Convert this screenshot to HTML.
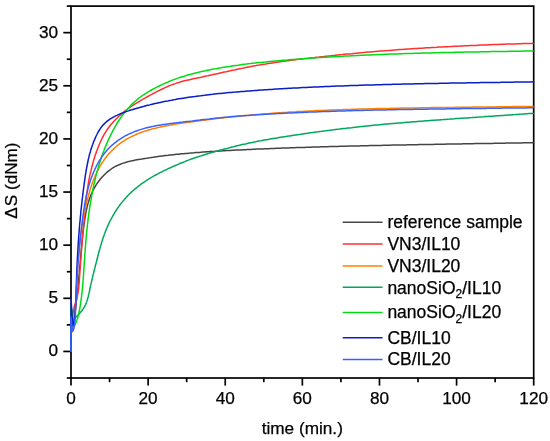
<!DOCTYPE html>
<html><head><meta charset="utf-8"><title>chart</title>
<style>html,body{margin:0;padding:0;background:#fff;overflow:hidden}svg{display:block}</style></head>
<body>
<svg width="550" height="441" viewBox="0 0 550 441">
<rect width="550" height="441" fill="#fff"/>
<g stroke="#000" stroke-width="1.7" fill="none" stroke-linecap="butt">
<rect x="71.00" y="6.10" width="462.70" height="371.90"/>
<line x1="63.30" y1="351.44" x2="71.00" y2="351.44"/>
<line x1="63.30" y1="298.31" x2="71.00" y2="298.31"/>
<line x1="63.30" y1="245.18" x2="71.00" y2="245.18"/>
<line x1="63.30" y1="192.05" x2="71.00" y2="192.05"/>
<line x1="63.30" y1="138.92" x2="71.00" y2="138.92"/>
<line x1="63.30" y1="85.79" x2="71.00" y2="85.79"/>
<line x1="63.30" y1="32.66" x2="71.00" y2="32.66"/>
<line x1="66.80" y1="378.00" x2="71.00" y2="378.00"/>
<line x1="66.80" y1="324.87" x2="71.00" y2="324.87"/>
<line x1="66.80" y1="271.74" x2="71.00" y2="271.74"/>
<line x1="66.80" y1="218.61" x2="71.00" y2="218.61"/>
<line x1="66.80" y1="165.49" x2="71.00" y2="165.49"/>
<line x1="66.80" y1="112.36" x2="71.00" y2="112.36"/>
<line x1="66.80" y1="59.23" x2="71.00" y2="59.23"/>
<line x1="66.80" y1="6.10" x2="71.00" y2="6.10"/>
<line x1="71.00" y1="378.00" x2="71.00" y2="385.60"/>
<line x1="148.12" y1="378.00" x2="148.12" y2="385.60"/>
<line x1="225.23" y1="378.00" x2="225.23" y2="385.60"/>
<line x1="302.35" y1="378.00" x2="302.35" y2="385.60"/>
<line x1="379.47" y1="378.00" x2="379.47" y2="385.60"/>
<line x1="456.58" y1="378.00" x2="456.58" y2="385.60"/>
<line x1="533.70" y1="378.00" x2="533.70" y2="385.60"/>
<line x1="109.56" y1="378.00" x2="109.56" y2="382.20"/>
<line x1="186.68" y1="378.00" x2="186.68" y2="382.20"/>
<line x1="263.79" y1="378.00" x2="263.79" y2="382.20"/>
<line x1="340.91" y1="378.00" x2="340.91" y2="382.20"/>
<line x1="418.03" y1="378.00" x2="418.03" y2="382.20"/>
<line x1="495.14" y1="378.00" x2="495.14" y2="382.20"/>
</g>
<g fill="none" stroke-width="1.5" stroke-linejoin="round" stroke-linecap="butt">
<path d="M71.0 351.4 L71.0 305.0 L72.4 330.1 L72.4 330.0 L72.4 329.8 L72.5 329.7 L72.5 329.6 L72.5 329.4 L72.6 329.2 L72.6 329.1 L72.6 328.9 L72.7 328.7 L72.7 328.5 L72.7 328.2 L72.8 328.0 L72.8 327.8 L72.9 327.5 L72.9 327.2 L73.0 327.0 L73.0 326.7 L73.1 326.4 L73.1 326.1 L73.2 325.8 L73.2 325.4 L73.3 325.1 L73.3 324.7 L73.4 324.4 L73.4 324.0 L73.5 323.6 L73.5 323.2 L73.6 322.8 L73.7 322.4 L73.7 322.0 L73.8 321.6 L73.9 321.2 L73.9 320.7 L74.0 320.2 L74.0 319.8 L74.1 319.3 L74.2 318.8 L74.2 318.3 L74.3 317.8 L74.4 317.3 L74.5 316.8 L74.5 316.2 L74.6 315.7 L74.7 315.1 L74.7 314.6 L74.8 314.0 L74.9 313.4 L75.0 312.9 L75.0 312.3 L75.1 311.6 L75.2 311.0 L75.3 310.4 L75.3 309.8 L75.4 309.1 L75.5 308.5 L75.6 307.8 L75.7 307.2 L75.8 306.5 L75.8 305.8 L75.9 305.1 L76.0 304.4 L76.1 303.7 L76.2 303.0 L76.2 302.3 L76.3 301.5 L76.4 300.8 L76.5 300.0 L76.6 299.3 L76.7 298.5 L76.8 297.7 L76.8 297.0 L76.9 296.2 L77.0 295.4 L77.1 294.6 L77.2 293.8 L77.3 292.9 L77.4 292.1 L77.5 291.3 L77.6 290.4 L77.6 289.6 L77.7 288.7 L77.8 287.9 L77.9 287.0 L78.0 286.1 L78.1 285.2 L78.2 284.3 L78.3 283.4 L78.4 282.5 L78.5 281.6 L78.5 280.7 L78.6 279.8 L78.7 278.8 L78.8 277.9 L78.9 276.9 L79.0 276.0 L79.1 275.0 L79.2 274.1 L79.3 273.1 L79.4 272.1 L79.4 271.1 L79.5 270.1 L79.6 269.1 L79.7 268.1 L79.8 267.1 L79.9 266.1 L80.0 265.0 L80.1 264.0 L80.2 263.0 L80.3 261.9 L80.3 260.9 L80.4 259.8 L80.5 258.8 L80.6 257.7 L80.7 256.6 L80.8 255.6 L80.9 254.5 L81.0 253.4 L81.1 252.3 L81.2 251.2 L81.2 250.1 L81.3 249.0 L81.4 247.8 L81.5 246.7 L81.6 245.6 L81.7 244.5 L81.9 243.3 L82.0 242.2 L82.1 241.0 L82.2 239.9 L82.3 238.7 L82.4 237.5 L82.6 236.4 L82.7 235.2 L82.8 234.0 L83.0 232.8 L83.1 231.6 L83.2 230.4 L83.4 229.2 L83.5 228.0 L83.7 226.8 L83.9 225.6 L84.0 224.4 L84.2 223.1 L84.4 221.9 L84.6 220.7 L84.8 219.4 L85.0 218.2 L85.2 216.9 L85.4 215.7 L85.6 214.4 L85.8 213.1 L86.1 211.9 L86.3 210.6 L86.6 209.3 L86.9 208.0 L87.2 206.7 L87.5 205.5 L87.8 204.2 L88.2 202.9 L88.6 201.6 L89.0 200.3 L89.4 199.0 L89.9 197.7 L90.4 196.4 L90.9 195.1 L91.4 193.8 L92.0 192.5 L92.6 191.2 L93.3 190.0 L94.0 188.7 L94.7 187.4 L95.4 186.2 L96.2 184.9 L97.0 183.7 L97.8 182.5 L98.6 181.3 L99.5 180.2 L100.4 179.0 L101.4 177.9 L102.4 176.8 L103.4 175.7 L104.4 174.7 L105.4 173.7 L106.5 172.7 L107.7 171.7 L108.8 170.8 L110.0 169.9 L111.2 169.0 L112.4 168.2 L113.7 167.4 L114.9 166.7 L116.3 166.0 L117.6 165.4 L119.0 164.8 L120.4 164.2 L121.8 163.6 L123.2 163.1 L124.7 162.7 L126.2 162.2 L127.7 161.8 L129.2 161.4 L130.7 161.1 L132.3 160.7 L133.8 160.4 L135.4 160.1 L137.0 159.8 L138.6 159.5 L140.2 159.2 L141.8 159.0 L143.4 158.7 L145.0 158.4 L146.6 158.2 L148.2 157.9 L149.8 157.7 L151.5 157.4 L153.1 157.2 L154.8 156.9 L156.4 156.7 L158.1 156.5 L159.7 156.3 L161.4 156.1 L163.0 155.9 L164.7 155.6 L166.4 155.4 L168.1 155.3 L169.8 155.1 L171.5 154.9 L173.2 154.7 L174.9 154.5 L176.6 154.3 L178.3 154.2 L180.0 154.0 L181.7 153.8 L183.5 153.7 L185.2 153.5 L186.9 153.4 L188.7 153.2 L190.4 153.1 L192.2 152.9 L194.0 152.8 L195.7 152.6 L197.5 152.5 L199.3 152.4 L201.1 152.2 L202.8 152.1 L204.6 152.0 L206.4 151.8 L208.2 151.7 L210.0 151.6 L211.9 151.5 L213.7 151.4 L215.5 151.3 L217.3 151.2 L219.2 151.0 L221.0 150.9 L222.8 150.8 L224.7 150.7 L226.5 150.6 L228.4 150.5 L230.2 150.4 L232.1 150.3 L234.0 150.2 L235.9 150.1 L237.7 150.0 L239.6 149.9 L241.5 149.9 L243.4 149.8 L245.3 149.7 L247.2 149.6 L249.1 149.5 L251.0 149.4 L253.0 149.3 L254.9 149.2 L256.8 149.1 L258.7 149.1 L260.7 149.0 L262.6 148.9 L264.6 148.8 L266.5 148.7 L268.5 148.7 L270.5 148.6 L272.4 148.5 L274.4 148.4 L276.4 148.3 L278.3 148.3 L280.3 148.2 L282.3 148.1 L284.3 148.0 L286.3 148.0 L288.3 147.9 L290.3 147.8 L292.4 147.8 L294.4 147.7 L296.4 147.6 L298.4 147.6 L300.5 147.5 L302.5 147.4 L304.5 147.4 L306.6 147.3 L308.6 147.2 L310.7 147.2 L312.8 147.1 L314.8 147.0 L316.9 147.0 L319.0 146.9 L321.0 146.8 L323.1 146.8 L325.2 146.7 L327.3 146.7 L329.4 146.6 L331.5 146.6 L333.6 146.5 L335.7 146.4 L337.8 146.4 L340.0 146.3 L342.1 146.3 L344.2 146.2 L346.4 146.2 L348.5 146.1 L350.6 146.1 L352.8 146.0 L354.9 146.0 L357.1 145.9 L359.3 145.9 L361.4 145.8 L363.6 145.8 L365.8 145.7 L367.9 145.7 L370.1 145.6 L372.3 145.6 L374.5 145.5 L376.7 145.5 L378.9 145.4 L381.1 145.4 L383.3 145.3 L385.5 145.3 L387.8 145.2 L390.0 145.2 L392.2 145.1 L394.4 145.1 L396.7 145.0 L398.9 145.0 L401.2 145.0 L403.4 144.9 L405.7 144.9 L407.9 144.8 L410.2 144.8 L412.5 144.7 L414.7 144.7 L417.0 144.7 L419.3 144.6 L421.6 144.6 L423.9 144.5 L426.2 144.5 L428.5 144.4 L430.8 144.4 L433.1 144.4 L435.4 144.3 L437.7 144.3 L440.0 144.2 L442.3 144.2 L444.7 144.2 L447.0 144.1 L449.3 144.1 L451.7 144.0 L454.0 144.0 L456.4 144.0 L458.7 143.9 L461.1 143.9 L463.4 143.8 L465.8 143.8 L468.2 143.8 L470.5 143.7 L472.9 143.7 L475.3 143.6 L477.7 143.6 L480.1 143.6 L482.5 143.5 L484.9 143.5 L487.3 143.4 L489.7 143.4 L492.1 143.4 L494.5 143.3 L496.9 143.3 L499.3 143.2 L501.8 143.2 L504.2 143.2 L506.6 143.1 L509.1 143.1 L511.5 143.0 L514.0 143.0 L516.4 143.0 L518.9 142.9 L521.3 142.9 L523.8 142.8 L526.3 142.8 L528.7 142.8 L531.2 142.7 L533.7 142.7" stroke="#444444"/>
<path d="M71.0 351.4 L71.0 300.0 L72.2 326.0 L72.3 325.9 L72.4 325.9 L72.4 325.8 L72.5 325.6 L72.5 325.5 L72.6 325.3 L72.6 325.2 L72.6 325.0 L72.7 324.8 L72.7 324.6 L72.7 324.4 L72.7 324.1 L72.7 323.8 L72.7 323.6 L72.7 323.3 L72.7 323.0 L72.7 322.7 L72.7 322.3 L72.7 322.0 L72.7 321.6 L72.7 321.2 L72.7 320.9 L72.7 320.5 L72.7 320.1 L72.7 319.6 L72.7 319.2 L72.7 318.7 L72.7 318.3 L72.8 317.8 L72.8 317.3 L72.8 316.9 L72.8 316.4 L72.8 315.9 L72.9 315.3 L72.9 314.8 L73.0 314.3 L73.0 313.7 L73.1 313.2 L73.2 312.6 L73.2 312.0 L73.3 311.4 L73.4 310.9 L73.5 310.3 L73.6 309.7 L73.7 309.1 L73.9 308.4 L74.0 307.8 L74.2 307.2 L74.3 306.5 L74.5 305.9 L74.7 305.3 L74.9 304.6 L75.1 303.9 L75.4 303.3 L75.6 302.6 L75.8 301.9 L76.0 301.2 L76.2 300.5 L76.5 299.8 L76.7 299.1 L76.9 298.4 L77.1 297.6 L77.2 296.9 L77.4 296.1 L77.6 295.3 L77.7 294.5 L77.9 293.7 L78.0 292.9 L78.1 292.1 L78.2 291.3 L78.4 290.5 L78.5 289.6 L78.6 288.7 L78.7 287.9 L78.8 287.0 L78.8 286.1 L78.9 285.2 L79.0 284.3 L79.1 283.4 L79.2 282.5 L79.2 281.6 L79.3 280.6 L79.4 279.7 L79.4 278.7 L79.5 277.8 L79.6 276.8 L79.6 275.8 L79.7 274.8 L79.8 273.8 L79.8 272.8 L79.9 271.8 L80.0 270.8 L80.0 269.8 L80.1 268.8 L80.2 267.8 L80.3 266.7 L80.3 265.7 L80.4 264.6 L80.5 263.5 L80.6 262.5 L80.6 261.4 L80.7 260.3 L80.8 259.2 L80.9 258.1 L81.0 257.0 L81.0 255.9 L81.1 254.8 L81.2 253.7 L81.3 252.6 L81.4 251.4 L81.5 250.3 L81.6 249.1 L81.7 248.0 L81.8 246.8 L81.9 245.6 L82.0 244.5 L82.0 243.3 L82.1 242.1 L82.2 240.9 L82.3 239.7 L82.4 238.5 L82.5 237.2 L82.6 236.0 L82.7 234.8 L82.9 233.6 L83.0 232.3 L83.1 231.1 L83.2 229.8 L83.3 228.5 L83.4 227.3 L83.5 226.0 L83.6 224.7 L83.7 223.4 L83.8 222.1 L84.0 220.8 L84.1 219.5 L84.2 218.2 L84.3 216.9 L84.4 215.6 L84.6 214.2 L84.7 212.9 L84.8 211.6 L84.9 210.2 L85.1 208.8 L85.2 207.5 L85.3 206.1 L85.5 204.7 L85.6 203.4 L85.8 202.0 L85.9 200.6 L86.1 199.2 L86.3 197.8 L86.4 196.4 L86.6 195.0 L86.8 193.5 L87.0 192.1 L87.2 190.7 L87.4 189.3 L87.6 187.8 L87.9 186.4 L88.1 184.9 L88.3 183.5 L88.6 182.0 L88.9 180.5 L89.1 179.1 L89.4 177.6 L89.7 176.1 L90.0 174.6 L90.4 173.1 L90.7 171.7 L91.1 170.2 L91.4 168.7 L91.8 167.2 L92.2 165.7 L92.6 164.2 L93.0 162.6 L93.4 161.1 L93.9 159.6 L94.4 158.1 L94.8 156.6 L95.3 155.1 L95.8 153.6 L96.4 152.1 L96.9 150.5 L97.5 149.0 L98.1 147.5 L98.7 146.0 L99.3 144.5 L99.9 143.0 L100.6 141.5 L101.3 140.0 L102.0 138.5 L102.7 137.1 L103.5 135.6 L104.3 134.2 L105.2 132.7 L106.1 131.3 L107.0 129.9 L107.9 128.5 L108.9 127.2 L110.0 125.8 L111.0 124.5 L112.1 123.2 L113.3 121.9 L114.4 120.7 L115.6 119.4 L116.9 118.2 L118.1 117.0 L119.4 115.8 L120.7 114.6 L122.1 113.5 L123.4 112.3 L124.8 111.2 L126.2 110.1 L127.7 109.0 L129.1 108.0 L130.6 106.9 L132.1 105.9 L133.6 104.9 L135.1 103.9 L136.7 103.0 L138.2 102.0 L139.8 101.1 L141.4 100.1 L142.9 99.2 L144.6 98.3 L146.2 97.4 L147.8 96.5 L149.4 95.6 L151.1 94.7 L152.7 93.8 L154.4 93.0 L156.0 92.1 L157.7 91.2 L159.4 90.4 L161.1 89.5 L162.8 88.7 L164.6 87.9 L166.3 87.1 L168.1 86.3 L169.9 85.6 L171.6 84.9 L173.4 84.2 L175.3 83.6 L177.1 82.9 L179.0 82.4 L180.8 81.8 L182.7 81.3 L184.6 80.8 L186.5 80.3 L188.5 79.9 L190.4 79.5 L192.3 79.0 L194.3 78.6 L196.3 78.2 L198.2 77.8 L200.2 77.4 L202.2 77.0 L204.2 76.5 L206.1 76.1 L208.1 75.7 L210.1 75.2 L212.1 74.8 L214.1 74.3 L216.1 73.9 L218.1 73.5 L220.2 73.0 L222.2 72.6 L224.2 72.1 L226.2 71.7 L228.3 71.2 L230.3 70.8 L232.4 70.3 L234.4 69.9 L236.5 69.4 L238.5 69.0 L240.6 68.6 L242.7 68.2 L244.8 67.7 L246.9 67.3 L248.9 66.9 L251.0 66.5 L253.2 66.1 L255.3 65.7 L257.4 65.3 L259.5 65.0 L261.6 64.6 L263.8 64.2 L265.9 63.9 L268.1 63.5 L270.2 63.2 L272.4 62.9 L274.6 62.6 L276.7 62.2 L278.9 61.9 L281.1 61.6 L283.3 61.3 L285.5 61.0 L287.7 60.7 L289.9 60.4 L292.1 60.1 L294.3 59.9 L296.6 59.6 L298.8 59.3 L301.0 59.0 L303.3 58.8 L305.5 58.5 L307.8 58.3 L310.0 58.0 L312.3 57.7 L314.6 57.5 L316.8 57.2 L319.1 57.0 L321.4 56.7 L323.7 56.5 L326.0 56.2 L328.3 56.0 L330.6 55.8 L332.9 55.5 L335.2 55.3 L337.5 55.0 L339.9 54.8 L342.2 54.6 L344.5 54.3 L346.9 54.1 L349.2 53.9 L351.6 53.7 L353.9 53.4 L356.3 53.2 L358.7 53.0 L361.0 52.8 L363.4 52.6 L365.8 52.3 L368.2 52.1 L370.6 51.9 L373.0 51.7 L375.4 51.5 L377.8 51.3 L380.2 51.1 L382.6 50.9 L385.0 50.7 L387.5 50.6 L389.9 50.4 L392.3 50.2 L394.8 50.0 L397.2 49.8 L399.7 49.6 L402.1 49.5 L404.6 49.3 L407.0 49.1 L409.5 49.0 L412.0 48.8 L414.5 48.6 L417.0 48.5 L419.4 48.3 L421.9 48.2 L424.4 48.0 L426.9 47.8 L429.5 47.7 L432.0 47.5 L434.5 47.4 L437.0 47.3 L439.5 47.1 L442.1 47.0 L444.6 46.8 L447.2 46.7 L449.7 46.6 L452.3 46.4 L454.8 46.3 L457.4 46.2 L459.9 46.1 L462.5 45.9 L465.1 45.8 L467.7 45.7 L470.2 45.6 L472.8 45.5 L475.4 45.4 L478.0 45.2 L480.6 45.1 L483.2 45.0 L485.9 44.9 L488.5 44.8 L491.1 44.7 L493.7 44.6 L496.4 44.5 L499.0 44.4 L501.6 44.3 L504.3 44.2 L506.9 44.1 L509.6 44.1 L512.3 44.0 L514.9 43.9 L517.6 43.8 L520.3 43.7 L522.9 43.6 L525.6 43.6 L528.3 43.5 L531.0 43.4 L533.7 43.3" stroke="#ff3030"/>
<path d="M71.0 351.4 L71.0 300.0 L72.2 332.0 L72.3 331.9 L72.4 331.8 L72.5 331.7 L72.5 331.6 L72.6 331.4 L72.7 331.2 L72.7 331.1 L72.8 330.9 L72.9 330.7 L72.9 330.5 L73.0 330.3 L73.1 330.0 L73.1 329.8 L73.2 329.5 L73.3 329.3 L73.3 329.0 L73.4 328.7 L73.5 328.4 L73.5 328.1 L73.6 327.7 L73.6 327.4 L73.7 327.1 L73.8 326.7 L73.8 326.3 L73.9 325.9 L73.9 325.5 L74.0 325.1 L74.0 324.7 L74.1 324.3 L74.2 323.9 L74.2 323.4 L74.3 322.9 L74.3 322.5 L74.4 322.0 L74.4 321.5 L74.5 321.0 L74.5 320.5 L74.6 320.0 L74.6 319.4 L74.7 318.9 L74.7 318.3 L74.8 317.8 L74.8 317.2 L74.9 316.6 L74.9 316.0 L75.0 315.4 L75.0 314.8 L75.1 314.2 L75.1 313.6 L75.2 312.9 L75.2 312.3 L75.3 311.6 L75.3 311.0 L75.4 310.3 L75.4 309.6 L75.4 308.9 L75.5 308.2 L75.5 307.5 L75.6 306.8 L75.6 306.1 L75.7 305.3 L75.7 304.6 L75.8 303.8 L75.8 303.1 L75.9 302.3 L75.9 301.5 L75.9 300.7 L76.0 299.9 L76.0 299.1 L76.1 298.3 L76.1 297.5 L76.2 296.7 L76.2 295.8 L76.3 295.0 L76.3 294.1 L76.4 293.3 L76.4 292.4 L76.4 291.6 L76.5 290.7 L76.5 289.8 L76.6 288.9 L76.6 288.0 L76.7 287.1 L76.7 286.2 L76.8 285.2 L76.8 284.3 L76.9 283.4 L76.9 282.4 L77.0 281.5 L77.0 280.5 L77.1 279.6 L77.1 278.6 L77.2 277.6 L77.2 276.7 L77.3 275.7 L77.3 274.7 L77.4 273.7 L77.4 272.7 L77.5 271.7 L77.5 270.6 L77.6 269.6 L77.6 268.6 L77.7 267.5 L77.8 266.5 L77.8 265.4 L77.9 264.4 L78.0 263.3 L78.0 262.3 L78.1 261.2 L78.2 260.1 L78.3 259.0 L78.3 257.9 L78.4 256.8 L78.5 255.7 L78.6 254.6 L78.7 253.5 L78.8 252.3 L78.9 251.2 L79.0 250.1 L79.1 248.9 L79.2 247.8 L79.3 246.6 L79.4 245.5 L79.6 244.3 L79.7 243.1 L79.8 242.0 L80.0 240.8 L80.1 239.6 L80.2 238.4 L80.4 237.2 L80.6 236.0 L80.7 234.8 L80.9 233.5 L81.0 232.3 L81.2 231.1 L81.4 229.8 L81.6 228.6 L81.8 227.3 L82.0 226.1 L82.2 224.8 L82.4 223.6 L82.6 222.3 L82.8 221.0 L83.1 219.7 L83.3 218.4 L83.5 217.1 L83.8 215.8 L84.0 214.5 L84.3 213.2 L84.6 211.9 L84.9 210.6 L85.1 209.2 L85.4 207.9 L85.7 206.6 L86.0 205.2 L86.4 203.9 L86.7 202.5 L87.0 201.1 L87.4 199.8 L87.7 198.4 L88.1 197.0 L88.4 195.6 L88.8 194.2 L89.2 192.9 L89.6 191.5 L90.0 190.1 L90.5 188.7 L90.9 187.3 L91.4 185.9 L91.8 184.5 L92.3 183.1 L92.8 181.7 L93.4 180.3 L93.9 179.0 L94.5 177.6 L95.0 176.2 L95.6 174.8 L96.3 173.5 L96.9 172.1 L97.6 170.8 L98.3 169.4 L99.0 168.1 L99.7 166.8 L100.5 165.4 L101.3 164.1 L102.1 162.8 L103.0 161.6 L103.8 160.3 L104.7 159.0 L105.7 157.8 L106.6 156.5 L107.6 155.3 L108.6 154.1 L109.7 152.9 L110.8 151.8 L111.9 150.6 L113.0 149.5 L114.2 148.4 L115.4 147.3 L116.6 146.2 L117.9 145.2 L119.2 144.2 L120.5 143.2 L121.8 142.2 L123.2 141.3 L124.6 140.4 L126.0 139.5 L127.4 138.7 L128.9 137.9 L130.4 137.1 L131.9 136.4 L133.4 135.7 L135.0 135.0 L136.5 134.3 L138.1 133.6 L139.7 133.0 L141.3 132.4 L142.9 131.8 L144.5 131.3 L146.2 130.8 L147.8 130.2 L149.5 129.7 L151.1 129.3 L152.8 128.8 L154.5 128.4 L156.3 128.0 L158.0 127.5 L159.7 127.2 L161.4 126.8 L163.2 126.4 L165.0 126.0 L166.7 125.7 L168.5 125.4 L170.3 125.1 L172.1 124.7 L173.9 124.4 L175.7 124.1 L177.5 123.8 L179.3 123.6 L181.2 123.3 L183.0 123.0 L184.8 122.7 L186.7 122.5 L188.5 122.2 L190.4 121.9 L192.3 121.7 L194.1 121.4 L196.0 121.2 L197.9 120.9 L199.7 120.7 L201.6 120.4 L203.5 120.2 L205.4 119.9 L207.3 119.7 L209.2 119.4 L211.1 119.2 L213.0 119.0 L214.9 118.8 L216.8 118.5 L218.8 118.3 L220.7 118.1 L222.6 117.9 L224.6 117.6 L226.5 117.4 L228.5 117.2 L230.4 117.0 L232.4 116.8 L234.3 116.6 L236.3 116.4 L238.3 116.2 L240.3 116.0 L242.2 115.8 L244.2 115.6 L246.2 115.4 L248.2 115.3 L250.2 115.1 L252.2 114.9 L254.3 114.7 L256.3 114.5 L258.3 114.4 L260.3 114.2 L262.4 114.0 L264.4 113.9 L266.5 113.7 L268.5 113.6 L270.6 113.4 L272.6 113.2 L274.7 113.1 L276.8 113.0 L278.8 112.8 L280.9 112.7 L283.0 112.5 L285.1 112.4 L287.2 112.3 L289.3 112.1 L291.4 112.0 L293.5 111.9 L295.6 111.8 L297.8 111.6 L299.9 111.5 L302.0 111.4 L304.2 111.3 L306.3 111.2 L308.4 111.1 L310.6 111.0 L312.8 110.9 L314.9 110.7 L317.1 110.6 L319.3 110.5 L321.4 110.5 L323.6 110.4 L325.8 110.3 L328.0 110.2 L330.2 110.1 L332.4 110.0 L334.6 109.9 L336.8 109.8 L339.0 109.8 L341.3 109.7 L343.5 109.6 L345.7 109.5 L347.9 109.4 L350.2 109.4 L352.4 109.3 L354.7 109.2 L356.9 109.2 L359.2 109.1 L361.5 109.0 L363.7 109.0 L366.0 108.9 L368.3 108.8 L370.6 108.8 L372.9 108.7 L375.1 108.7 L377.4 108.6 L379.7 108.6 L382.1 108.5 L384.4 108.5 L386.7 108.4 L389.0 108.4 L391.3 108.3 L393.7 108.3 L396.0 108.2 L398.3 108.2 L400.7 108.1 L403.0 108.1 L405.4 108.1 L407.7 108.0 L410.1 108.0 L412.5 107.9 L414.8 107.9 L417.2 107.9 L419.6 107.8 L422.0 107.8 L424.4 107.7 L426.7 107.7 L429.1 107.7 L431.5 107.6 L434.0 107.6 L436.4 107.6 L438.8 107.5 L441.2 107.5 L443.6 107.5 L446.0 107.5 L448.5 107.4 L450.9 107.4 L453.4 107.4 L455.8 107.3 L458.3 107.3 L460.7 107.3 L463.2 107.2 L465.6 107.2 L468.1 107.2 L470.6 107.2 L473.0 107.1 L475.5 107.1 L478.0 107.1 L480.5 107.0 L483.0 107.0 L485.5 107.0 L488.0 107.0 L490.5 106.9 L493.0 106.9 L495.5 106.9 L498.0 106.8 L500.5 106.8 L503.1 106.8 L505.6 106.7 L508.1 106.7 L510.7 106.7 L513.2 106.6 L515.7 106.6 L518.3 106.6 L520.8 106.5 L523.4 106.5 L526.0 106.5 L528.5 106.4 L531.1 106.4 L533.7 106.4" stroke="#ff8000"/>
<path d="M71.0 351.4 L71.0 305.0 L72.5 323.0 L72.4 322.9 L72.4 322.7 L72.3 322.5 L72.3 322.4 L72.3 322.2 L72.3 322.1 L72.3 321.9 L72.3 321.7 L72.4 321.5 L72.5 321.4 L72.5 321.2 L72.6 321.0 L72.8 320.8 L72.9 320.6 L73.0 320.4 L73.2 320.2 L73.3 320.0 L73.5 319.8 L73.7 319.6 L73.9 319.3 L74.1 319.1 L74.3 318.9 L74.6 318.6 L74.8 318.4 L75.1 318.1 L75.3 317.8 L75.6 317.6 L75.9 317.3 L76.1 317.0 L76.4 316.7 L76.7 316.4 L77.0 316.1 L77.3 315.8 L77.6 315.5 L78.0 315.1 L78.3 314.8 L78.6 314.4 L79.0 314.1 L79.3 313.7 L79.6 313.3 L80.0 313.0 L80.3 312.6 L80.6 312.2 L81.0 311.8 L81.3 311.3 L81.7 310.9 L82.0 310.5 L82.3 310.0 L82.7 309.5 L83.0 309.1 L83.3 308.6 L83.6 308.1 L83.9 307.6 L84.3 307.1 L84.6 306.5 L84.9 306.0 L85.1 305.4 L85.4 304.9 L85.7 304.3 L85.9 303.7 L86.2 303.1 L86.4 302.5 L86.7 301.8 L86.9 301.2 L87.1 300.5 L87.3 299.9 L87.5 299.2 L87.7 298.5 L87.9 297.8 L88.1 297.1 L88.3 296.4 L88.4 295.7 L88.6 294.9 L88.8 294.2 L89.0 293.4 L89.1 292.7 L89.3 291.9 L89.5 291.1 L89.6 290.3 L89.8 289.6 L90.0 288.8 L90.1 288.0 L90.3 287.1 L90.5 286.3 L90.6 285.5 L90.8 284.7 L91.0 283.8 L91.2 283.0 L91.4 282.1 L91.6 281.3 L91.8 280.4 L92.0 279.6 L92.2 278.7 L92.4 277.9 L92.6 277.0 L92.8 276.1 L93.0 275.2 L93.2 274.3 L93.5 273.4 L93.7 272.5 L93.9 271.6 L94.1 270.7 L94.4 269.8 L94.6 268.9 L94.9 267.9 L95.1 267.0 L95.3 266.0 L95.6 265.1 L95.8 264.1 L96.1 263.2 L96.3 262.2 L96.6 261.3 L96.8 260.3 L97.1 259.3 L97.3 258.3 L97.6 257.3 L97.8 256.3 L98.1 255.3 L98.3 254.3 L98.6 253.3 L98.9 252.3 L99.1 251.2 L99.4 250.2 L99.7 249.2 L100.0 248.2 L100.3 247.1 L100.6 246.1 L100.9 245.0 L101.2 244.0 L101.5 242.9 L101.8 241.8 L102.2 240.8 L102.5 239.7 L102.9 238.6 L103.2 237.6 L103.6 236.5 L104.0 235.4 L104.4 234.3 L104.8 233.3 L105.2 232.2 L105.6 231.1 L106.0 230.0 L106.5 228.9 L106.9 227.8 L107.4 226.7 L107.9 225.6 L108.4 224.5 L108.9 223.4 L109.4 222.3 L110.0 221.2 L110.5 220.1 L111.1 219.0 L111.7 217.9 L112.3 216.9 L112.9 215.8 L113.5 214.7 L114.2 213.6 L114.8 212.5 L115.5 211.4 L116.2 210.3 L116.9 209.3 L117.6 208.2 L118.3 207.1 L119.1 206.1 L119.9 205.0 L120.6 204.0 L121.5 202.9 L122.3 201.9 L123.1 200.9 L124.0 199.9 L124.8 198.9 L125.7 197.9 L126.6 196.9 L127.5 195.9 L128.5 195.0 L129.4 194.0 L130.4 193.1 L131.4 192.1 L132.4 191.2 L133.4 190.3 L134.5 189.4 L135.5 188.5 L136.6 187.6 L137.7 186.8 L138.8 185.9 L139.9 185.1 L141.0 184.2 L142.2 183.4 L143.3 182.6 L144.5 181.8 L145.7 181.0 L146.9 180.2 L148.1 179.4 L149.3 178.7 L150.6 177.9 L151.8 177.2 L153.1 176.4 L154.4 175.7 L155.7 175.0 L157.0 174.3 L158.3 173.6 L159.6 172.9 L160.9 172.2 L162.3 171.6 L163.6 170.9 L165.0 170.2 L166.4 169.6 L167.7 168.9 L169.1 168.3 L170.5 167.7 L171.9 167.0 L173.3 166.4 L174.7 165.8 L176.1 165.2 L177.5 164.6 L179.0 163.9 L180.4 163.3 L181.9 162.7 L183.3 162.2 L184.8 161.6 L186.2 161.0 L187.7 160.4 L189.2 159.9 L190.7 159.3 L192.2 158.8 L193.7 158.2 L195.2 157.7 L196.7 157.2 L198.3 156.7 L199.8 156.1 L201.3 155.7 L202.9 155.2 L204.5 154.7 L206.0 154.2 L207.6 153.7 L209.2 153.3 L210.8 152.8 L212.4 152.3 L214.0 151.9 L215.6 151.4 L217.2 151.0 L218.8 150.5 L220.4 150.1 L222.1 149.7 L223.7 149.2 L225.3 148.8 L227.0 148.4 L228.6 147.9 L230.3 147.5 L232.0 147.1 L233.6 146.7 L235.3 146.2 L237.0 145.8 L238.7 145.4 L240.4 145.0 L242.1 144.6 L243.8 144.2 L245.5 143.9 L247.2 143.5 L248.9 143.1 L250.6 142.7 L252.4 142.4 L254.1 142.0 L255.8 141.7 L257.6 141.3 L259.3 141.0 L261.1 140.7 L262.9 140.3 L264.6 140.0 L266.4 139.7 L268.2 139.4 L270.0 139.1 L271.8 138.8 L273.6 138.5 L275.4 138.2 L277.2 137.9 L279.0 137.6 L280.8 137.3 L282.7 137.0 L284.5 136.7 L286.3 136.4 L288.2 136.1 L290.0 135.9 L291.8 135.6 L293.7 135.3 L295.6 135.0 L297.4 134.7 L299.3 134.5 L301.2 134.2 L303.0 133.9 L304.9 133.6 L306.8 133.4 L308.7 133.1 L310.6 132.8 L312.5 132.6 L314.4 132.3 L316.3 132.0 L318.2 131.8 L320.1 131.5 L322.0 131.3 L324.0 131.0 L325.9 130.8 L327.8 130.5 L329.8 130.3 L331.7 130.0 L333.7 129.8 L335.6 129.5 L337.6 129.3 L339.5 129.1 L341.5 128.8 L343.5 128.6 L345.4 128.4 L347.4 128.1 L349.4 127.9 L351.4 127.7 L353.4 127.4 L355.4 127.2 L357.4 127.0 L359.4 126.8 L361.4 126.6 L363.4 126.4 L365.4 126.1 L367.5 125.9 L369.5 125.7 L371.5 125.5 L373.6 125.3 L375.6 125.1 L377.6 124.9 L379.7 124.7 L381.8 124.5 L383.8 124.3 L385.9 124.1 L387.9 124.0 L390.0 123.8 L392.1 123.6 L394.2 123.4 L396.3 123.2 L398.4 123.0 L400.4 122.9 L402.5 122.7 L404.6 122.5 L406.8 122.3 L408.9 122.2 L411.0 122.0 L413.1 121.8 L415.2 121.7 L417.4 121.5 L419.5 121.3 L421.6 121.2 L423.8 121.0 L425.9 120.8 L428.1 120.7 L430.2 120.5 L432.4 120.3 L434.5 120.2 L436.7 120.0 L438.9 119.9 L441.1 119.7 L443.2 119.6 L445.4 119.4 L447.6 119.2 L449.8 119.1 L452.0 118.9 L454.2 118.8 L456.4 118.6 L458.6 118.5 L460.8 118.3 L463.0 118.2 L465.3 118.0 L467.5 117.9 L469.7 117.7 L471.9 117.6 L474.2 117.4 L476.4 117.2 L478.7 117.1 L480.9 116.9 L483.2 116.8 L485.4 116.6 L487.7 116.5 L489.9 116.3 L492.2 116.2 L494.5 116.0 L496.8 115.8 L499.0 115.7 L501.3 115.5 L503.6 115.4 L505.9 115.2 L508.2 115.0 L510.5 114.9 L512.8 114.7 L515.1 114.6 L517.4 114.4 L519.7 114.2 L522.0 114.1 L524.4 113.9 L526.7 113.7 L529.0 113.5 L531.4 113.4 L533.7 113.2" stroke="#00a85c"/>
<path d="M71.0 351.4 L71.0 305.0 L73.1 326.2 L73.2 326.2 L73.3 326.1 L73.5 326.0 L73.6 326.0 L73.8 325.9 L73.9 325.8 L74.1 325.6 L74.2 325.5 L74.4 325.4 L74.5 325.2 L74.7 325.0 L74.8 324.8 L75.0 324.6 L75.1 324.4 L75.2 324.2 L75.4 323.9 L75.5 323.6 L75.7 323.4 L75.8 323.1 L76.0 322.8 L76.1 322.4 L76.2 322.1 L76.4 321.8 L76.5 321.4 L76.7 321.0 L76.8 320.6 L76.9 320.2 L77.1 319.8 L77.2 319.4 L77.3 319.0 L77.5 318.5 L77.6 318.1 L77.7 317.6 L77.9 317.1 L78.0 316.6 L78.1 316.1 L78.3 315.6 L78.4 315.1 L78.5 314.5 L78.7 314.0 L78.8 313.4 L78.9 312.8 L79.0 312.2 L79.2 311.6 L79.3 311.0 L79.4 310.4 L79.5 309.8 L79.7 309.1 L79.8 308.5 L79.9 307.8 L80.0 307.1 L80.1 306.5 L80.2 305.8 L80.4 305.1 L80.5 304.4 L80.6 303.6 L80.7 302.9 L80.8 302.2 L80.9 301.4 L81.0 300.6 L81.1 299.9 L81.2 299.1 L81.3 298.3 L81.4 297.5 L81.5 296.7 L81.6 295.9 L81.7 295.1 L81.8 294.2 L81.9 293.4 L82.0 292.6 L82.1 291.7 L82.2 290.8 L82.3 290.0 L82.4 289.1 L82.5 288.2 L82.5 287.3 L82.6 286.4 L82.7 285.5 L82.8 284.6 L82.9 283.6 L82.9 282.7 L83.0 281.8 L83.1 280.8 L83.2 279.9 L83.2 278.9 L83.3 278.0 L83.4 277.0 L83.4 276.0 L83.5 275.0 L83.6 274.0 L83.6 273.0 L83.7 272.0 L83.8 271.0 L83.8 270.0 L83.9 268.9 L84.0 267.9 L84.0 266.9 L84.1 265.8 L84.2 264.8 L84.2 263.7 L84.3 262.6 L84.4 261.5 L84.5 260.5 L84.5 259.4 L84.6 258.3 L84.7 257.2 L84.7 256.1 L84.8 254.9 L84.9 253.8 L85.0 252.7 L85.1 251.5 L85.1 250.4 L85.2 249.3 L85.3 248.1 L85.4 246.9 L85.5 245.8 L85.6 244.6 L85.7 243.4 L85.8 242.2 L85.9 241.0 L86.0 239.8 L86.1 238.6 L86.2 237.4 L86.3 236.2 L86.4 234.9 L86.5 233.7 L86.6 232.5 L86.8 231.2 L86.9 230.0 L87.0 228.7 L87.2 227.4 L87.3 226.2 L87.4 224.9 L87.6 223.6 L87.7 222.3 L87.9 221.0 L88.1 219.7 L88.2 218.4 L88.4 217.1 L88.6 215.8 L88.7 214.4 L88.9 213.1 L89.1 211.8 L89.3 210.4 L89.5 209.1 L89.7 207.7 L89.9 206.3 L90.1 205.0 L90.4 203.6 L90.6 202.2 L90.8 200.8 L91.1 199.4 L91.3 198.0 L91.6 196.6 L91.8 195.2 L92.1 193.8 L92.4 192.4 L92.6 190.9 L92.9 189.5 L93.2 188.1 L93.5 186.6 L93.8 185.2 L94.1 183.7 L94.5 182.3 L94.8 180.8 L95.2 179.3 L95.5 177.9 L95.9 176.4 L96.2 174.9 L96.6 173.4 L97.0 172.0 L97.4 170.5 L97.8 169.0 L98.3 167.5 L98.7 166.0 L99.1 164.5 L99.6 163.0 L100.1 161.5 L100.6 160.0 L101.1 158.5 L101.6 157.0 L102.1 155.5 L102.6 154.0 L103.2 152.5 L103.8 151.0 L104.3 149.4 L104.9 147.9 L105.6 146.4 L106.2 144.9 L106.8 143.4 L107.5 141.9 L108.1 140.4 L108.8 138.9 L109.5 137.4 L110.3 135.9 L111.0 134.4 L111.8 132.9 L112.5 131.4 L113.3 129.9 L114.1 128.4 L115.0 126.9 L115.8 125.4 L116.7 124.0 L117.6 122.5 L118.5 121.0 L119.4 119.6 L120.4 118.2 L121.4 116.7 L122.4 115.3 L123.4 113.9 L124.5 112.5 L125.6 111.2 L126.7 109.8 L127.9 108.5 L129.1 107.2 L130.3 105.9 L131.5 104.6 L132.8 103.4 L134.1 102.2 L135.5 101.0 L136.9 99.8 L138.3 98.7 L139.7 97.6 L141.2 96.5 L142.7 95.4 L144.3 94.4 L145.8 93.4 L147.4 92.4 L149.0 91.4 L150.7 90.5 L152.3 89.5 L154.0 88.6 L155.7 87.7 L157.4 86.9 L159.1 86.0 L160.8 85.2 L162.5 84.4 L164.3 83.6 L166.0 82.8 L167.8 82.1 L169.5 81.3 L171.3 80.6 L173.1 79.9 L174.9 79.2 L176.7 78.6 L178.6 77.9 L180.4 77.3 L182.3 76.7 L184.1 76.2 L186.0 75.6 L187.9 75.1 L189.8 74.6 L191.7 74.0 L193.7 73.5 L195.6 73.0 L197.5 72.6 L199.5 72.1 L201.4 71.6 L203.4 71.2 L205.3 70.8 L207.3 70.3 L209.3 69.9 L211.3 69.5 L213.3 69.1 L215.3 68.8 L217.3 68.4 L219.4 68.0 L221.4 67.7 L223.4 67.3 L225.5 67.0 L227.5 66.7 L229.6 66.4 L231.7 66.0 L233.7 65.7 L235.8 65.4 L237.9 65.2 L240.0 64.9 L242.1 64.6 L244.2 64.3 L246.3 64.1 L248.4 63.8 L250.6 63.6 L252.7 63.3 L254.8 63.1 L257.0 62.8 L259.1 62.6 L261.3 62.4 L263.4 62.2 L265.6 62.0 L267.8 61.7 L270.0 61.5 L272.1 61.3 L274.3 61.1 L276.5 60.9 L278.7 60.7 L280.9 60.5 L283.1 60.3 L285.3 60.2 L287.5 60.0 L289.8 59.8 L292.0 59.6 L294.2 59.4 L296.5 59.2 L298.7 59.1 L300.9 58.9 L303.2 58.7 L305.5 58.6 L307.7 58.4 L310.0 58.3 L312.3 58.1 L314.5 57.9 L316.8 57.8 L319.1 57.6 L321.4 57.5 L323.7 57.3 L326.0 57.2 L328.3 57.1 L330.6 56.9 L332.9 56.8 L335.2 56.7 L337.6 56.5 L339.9 56.4 L342.2 56.3 L344.6 56.1 L346.9 56.0 L349.3 55.9 L351.6 55.8 L354.0 55.7 L356.3 55.6 L358.7 55.4 L361.1 55.3 L363.5 55.2 L365.8 55.1 L368.2 55.0 L370.6 54.9 L373.0 54.8 L375.4 54.7 L377.8 54.6 L380.2 54.5 L382.7 54.4 L385.1 54.3 L387.5 54.2 L389.9 54.1 L392.4 54.1 L394.8 54.0 L397.3 53.9 L399.7 53.8 L402.2 53.7 L404.6 53.6 L407.1 53.6 L409.6 53.5 L412.0 53.4 L414.5 53.3 L417.0 53.3 L419.5 53.2 L422.0 53.1 L424.5 53.1 L427.0 53.0 L429.5 52.9 L432.0 52.9 L434.5 52.8 L437.1 52.7 L439.6 52.7 L442.1 52.6 L444.7 52.5 L447.2 52.5 L449.7 52.4 L452.3 52.4 L454.9 52.3 L457.4 52.3 L460.0 52.2 L462.6 52.2 L465.1 52.1 L467.7 52.1 L470.3 52.0 L472.9 52.0 L475.5 51.9 L478.1 51.9 L480.7 51.8 L483.3 51.8 L485.9 51.7 L488.5 51.7 L491.1 51.6 L493.8 51.6 L496.4 51.5 L499.0 51.5 L501.7 51.5 L504.3 51.4 L507.0 51.4 L509.6 51.3 L512.3 51.3 L514.9 51.2 L517.6 51.2 L520.3 51.2 L523.0 51.1 L525.6 51.1 L528.3 51.0 L531.0 51.0 L533.7 51.0" stroke="#00dc14"/>
<path d="M71.0 351.4 L71.0 298.4 L72.7 325.8 L72.8 325.7 L72.9 325.5 L73.0 325.3 L73.1 325.2 L73.2 325.0 L73.3 324.8 L73.3 324.6 L73.4 324.3 L73.5 324.1 L73.6 323.9 L73.7 323.6 L73.7 323.3 L73.8 323.1 L73.9 322.8 L74.0 322.5 L74.0 322.2 L74.1 321.8 L74.2 321.5 L74.2 321.2 L74.3 320.8 L74.3 320.5 L74.4 320.1 L74.4 319.7 L74.5 319.3 L74.6 318.9 L74.6 318.5 L74.7 318.1 L74.7 317.6 L74.8 317.2 L74.8 316.7 L74.9 316.3 L74.9 315.8 L74.9 315.3 L75.0 314.8 L75.0 314.3 L75.1 313.8 L75.1 313.3 L75.2 312.7 L75.2 312.2 L75.2 311.6 L75.3 311.1 L75.3 310.5 L75.3 309.9 L75.4 309.3 L75.4 308.7 L75.4 308.1 L75.5 307.5 L75.5 306.9 L75.5 306.2 L75.6 305.6 L75.6 304.9 L75.6 304.2 L75.6 303.6 L75.7 302.9 L75.7 302.2 L75.7 301.5 L75.8 300.8 L75.8 300.0 L75.8 299.3 L75.8 298.6 L75.9 297.8 L75.9 297.1 L75.9 296.3 L76.0 295.5 L76.0 294.7 L76.0 293.9 L76.0 293.1 L76.1 292.3 L76.1 291.5 L76.1 290.7 L76.2 289.8 L76.2 289.0 L76.2 288.1 L76.2 287.3 L76.3 286.4 L76.3 285.5 L76.3 284.6 L76.4 283.8 L76.4 282.8 L76.4 281.9 L76.5 281.0 L76.5 280.1 L76.5 279.2 L76.6 278.2 L76.6 277.3 L76.6 276.3 L76.7 275.3 L76.7 274.4 L76.7 273.4 L76.8 272.4 L76.8 271.4 L76.9 270.4 L76.9 269.4 L76.9 268.3 L77.0 267.3 L77.0 266.3 L77.1 265.2 L77.1 264.2 L77.2 263.1 L77.2 262.0 L77.3 261.0 L77.3 259.9 L77.4 258.8 L77.4 257.7 L77.5 256.6 L77.6 255.5 L77.6 254.4 L77.7 253.3 L77.7 252.1 L77.8 251.0 L77.9 249.8 L77.9 248.7 L78.0 247.5 L78.1 246.4 L78.2 245.2 L78.2 244.0 L78.3 242.8 L78.4 241.6 L78.5 240.4 L78.6 239.2 L78.6 238.0 L78.7 236.8 L78.8 235.6 L78.9 234.3 L79.0 233.1 L79.1 231.9 L79.2 230.6 L79.3 229.4 L79.4 228.1 L79.5 226.8 L79.6 225.5 L79.7 224.3 L79.8 223.0 L79.9 221.7 L80.1 220.4 L80.2 219.1 L80.3 217.8 L80.4 216.4 L80.6 215.1 L80.7 213.8 L80.8 212.5 L80.9 211.1 L81.1 209.8 L81.2 208.4 L81.4 207.1 L81.5 205.7 L81.7 204.3 L81.8 203.0 L82.0 201.6 L82.1 200.2 L82.3 198.8 L82.5 197.4 L82.6 196.0 L82.8 194.6 L83.0 193.2 L83.1 191.8 L83.3 190.4 L83.5 188.9 L83.7 187.5 L83.9 186.1 L84.1 184.6 L84.3 183.2 L84.5 181.7 L84.7 180.3 L84.9 178.8 L85.1 177.3 L85.3 175.9 L85.5 174.4 L85.8 172.9 L86.0 171.4 L86.3 170.0 L86.5 168.5 L86.8 167.0 L87.1 165.5 L87.4 164.0 L87.7 162.5 L88.0 161.0 L88.3 159.4 L88.7 157.9 L89.0 156.4 L89.4 154.9 L89.8 153.4 L90.3 151.9 L90.7 150.3 L91.2 148.8 L91.7 147.3 L92.2 145.7 L92.8 144.2 L93.3 142.7 L93.9 141.1 L94.6 139.6 L95.2 138.1 L95.9 136.5 L96.7 135.0 L97.4 133.5 L98.2 132.0 L99.1 130.5 L100.0 129.1 L100.9 127.7 L101.9 126.4 L103.0 125.1 L104.2 123.9 L105.4 122.7 L106.6 121.6 L107.9 120.6 L109.3 119.6 L110.7 118.7 L112.2 117.8 L113.7 116.9 L115.2 116.1 L116.8 115.4 L118.4 114.6 L120.0 113.9 L121.7 113.3 L123.3 112.6 L125.0 112.0 L126.7 111.4 L128.4 110.9 L130.1 110.3 L131.8 109.8 L133.5 109.2 L135.3 108.7 L137.0 108.2 L138.8 107.7 L140.5 107.2 L142.3 106.7 L144.1 106.3 L145.9 105.8 L147.7 105.3 L149.5 104.9 L151.3 104.4 L153.1 104.0 L154.9 103.6 L156.7 103.2 L158.6 102.8 L160.4 102.4 L162.2 102.0 L164.1 101.6 L166.0 101.2 L167.8 100.9 L169.7 100.5 L171.6 100.2 L173.5 99.8 L175.4 99.5 L177.3 99.1 L179.2 98.8 L181.1 98.5 L183.0 98.2 L185.0 97.9 L186.9 97.6 L188.8 97.3 L190.8 97.0 L192.7 96.7 L194.7 96.5 L196.7 96.2 L198.6 95.9 L200.6 95.7 L202.6 95.4 L204.6 95.2 L206.6 94.9 L208.6 94.7 L210.6 94.5 L212.6 94.3 L214.6 94.0 L216.7 93.8 L218.7 93.6 L220.7 93.4 L222.8 93.2 L224.8 93.0 L226.9 92.8 L229.0 92.6 L231.0 92.4 L233.1 92.2 L235.2 92.1 L237.3 91.9 L239.3 91.7 L241.4 91.5 L243.5 91.4 L245.6 91.2 L247.8 91.0 L249.9 90.9 L252.0 90.7 L254.1 90.6 L256.2 90.4 L258.4 90.2 L260.5 90.1 L262.7 90.0 L264.8 89.8 L267.0 89.7 L269.1 89.5 L271.3 89.4 L273.5 89.2 L275.7 89.1 L277.8 89.0 L280.0 88.8 L282.2 88.7 L284.4 88.6 L286.6 88.5 L288.8 88.3 L291.0 88.2 L293.2 88.1 L295.5 88.0 L297.7 87.9 L299.9 87.7 L302.2 87.6 L304.4 87.5 L306.6 87.4 L308.9 87.3 L311.1 87.2 L313.4 87.1 L315.7 87.0 L317.9 86.9 L320.2 86.8 L322.5 86.7 L324.8 86.6 L327.1 86.5 L329.4 86.4 L331.7 86.3 L334.0 86.2 L336.3 86.1 L338.6 86.0 L340.9 85.9 L343.2 85.9 L345.6 85.8 L347.9 85.7 L350.2 85.6 L352.6 85.5 L354.9 85.4 L357.3 85.4 L359.6 85.3 L362.0 85.2 L364.4 85.1 L366.7 85.1 L369.1 85.0 L371.5 84.9 L373.9 84.9 L376.3 84.8 L378.7 84.7 L381.1 84.7 L383.5 84.6 L385.9 84.5 L388.3 84.5 L390.7 84.4 L393.1 84.3 L395.6 84.3 L398.0 84.2 L400.5 84.2 L402.9 84.1 L405.3 84.0 L407.8 84.0 L410.3 83.9 L412.7 83.9 L415.2 83.8 L417.7 83.8 L420.1 83.7 L422.6 83.7 L425.1 83.6 L427.6 83.6 L430.1 83.5 L432.6 83.5 L435.1 83.4 L437.6 83.4 L440.1 83.3 L442.6 83.3 L445.2 83.2 L447.7 83.2 L450.2 83.1 L452.8 83.1 L455.3 83.1 L457.9 83.0 L460.4 83.0 L463.0 82.9 L465.5 82.9 L468.1 82.8 L470.7 82.8 L473.2 82.8 L475.8 82.7 L478.4 82.7 L481.0 82.6 L483.6 82.6 L486.2 82.6 L488.8 82.5 L491.4 82.5 L494.0 82.4 L496.6 82.4 L499.2 82.4 L501.9 82.3 L504.5 82.3 L507.1 82.2 L509.8 82.2 L512.4 82.2 L515.0 82.1 L517.7 82.1 L520.4 82.0 L523.0 82.0 L525.7 82.0 L528.4 81.9 L531.0 81.9 L533.7 81.8" stroke="#0a1ec8"/>
<path d="M71.0 351.4 L71.0 317.0 L72.5 331.2 L72.6 331.1 L72.7 331.0 L72.8 330.9 L72.9 330.8 L73.0 330.7 L73.1 330.5 L73.2 330.3 L73.3 330.2 L73.4 330.0 L73.4 329.8 L73.5 329.6 L73.6 329.4 L73.7 329.1 L73.8 328.9 L73.8 328.6 L73.9 328.3 L74.0 328.0 L74.0 327.7 L74.1 327.4 L74.2 327.1 L74.2 326.8 L74.3 326.4 L74.4 326.1 L74.4 325.7 L74.5 325.3 L74.5 324.9 L74.6 324.5 L74.6 324.1 L74.7 323.7 L74.7 323.3 L74.8 322.8 L74.8 322.3 L74.9 321.9 L74.9 321.4 L75.0 320.9 L75.0 320.4 L75.0 319.9 L75.1 319.4 L75.1 318.8 L75.1 318.3 L75.2 317.7 L75.2 317.2 L75.3 316.6 L75.3 316.0 L75.3 315.4 L75.4 314.8 L75.4 314.2 L75.4 313.6 L75.4 312.9 L75.5 312.3 L75.5 311.6 L75.5 311.0 L75.6 310.3 L75.6 309.6 L75.6 308.9 L75.6 308.2 L75.7 307.5 L75.7 306.8 L75.7 306.1 L75.8 305.4 L75.8 304.6 L75.8 303.9 L75.8 303.1 L75.9 302.3 L75.9 301.6 L75.9 300.8 L76.0 300.0 L76.0 299.2 L76.0 298.4 L76.1 297.5 L76.1 296.7 L76.1 295.9 L76.2 295.0 L76.2 294.2 L76.2 293.3 L76.3 292.5 L76.3 291.6 L76.4 290.7 L76.4 289.8 L76.4 288.9 L76.5 288.0 L76.5 287.1 L76.6 286.2 L76.6 285.3 L76.7 284.4 L76.7 283.4 L76.8 282.5 L76.8 281.5 L76.9 280.6 L76.9 279.6 L77.0 278.7 L77.0 277.7 L77.1 276.7 L77.2 275.7 L77.2 274.7 L77.3 273.7 L77.3 272.7 L77.4 271.7 L77.5 270.7 L77.6 269.7 L77.6 268.6 L77.7 267.6 L77.8 266.5 L77.9 265.5 L77.9 264.4 L78.0 263.4 L78.1 262.3 L78.2 261.2 L78.3 260.1 L78.4 259.0 L78.5 258.0 L78.6 256.9 L78.7 255.7 L78.8 254.6 L78.9 253.5 L79.0 252.4 L79.1 251.3 L79.2 250.1 L79.3 249.0 L79.4 247.8 L79.5 246.7 L79.6 245.5 L79.7 244.3 L79.9 243.2 L80.0 242.0 L80.1 240.8 L80.2 239.6 L80.3 238.4 L80.5 237.2 L80.6 236.0 L80.7 234.8 L80.9 233.5 L81.0 232.3 L81.2 231.1 L81.3 229.8 L81.4 228.6 L81.6 227.3 L81.7 226.0 L81.9 224.8 L82.0 223.5 L82.2 222.2 L82.3 220.9 L82.5 219.7 L82.7 218.4 L82.8 217.1 L83.0 215.7 L83.2 214.4 L83.4 213.1 L83.6 211.8 L83.7 210.4 L83.9 209.1 L84.2 207.8 L84.4 206.4 L84.6 205.1 L84.8 203.7 L85.1 202.3 L85.3 201.0 L85.6 199.6 L85.8 198.2 L86.1 196.8 L86.4 195.5 L86.7 194.1 L87.1 192.7 L87.4 191.3 L87.7 189.9 L88.1 188.4 L88.5 187.0 L88.9 185.6 L89.3 184.2 L89.7 182.8 L90.2 181.4 L90.6 179.9 L91.1 178.5 L91.6 177.1 L92.2 175.7 L92.7 174.3 L93.3 172.9 L93.9 171.5 L94.5 170.1 L95.1 168.6 L95.8 167.3 L96.5 165.9 L97.2 164.5 L98.0 163.1 L98.7 161.8 L99.5 160.4 L100.4 159.1 L101.2 157.8 L102.1 156.5 L103.0 155.2 L104.0 153.9 L105.0 152.7 L106.0 151.5 L107.0 150.3 L108.1 149.1 L109.2 147.9 L110.3 146.8 L111.5 145.7 L112.7 144.7 L113.9 143.6 L115.2 142.6 L116.5 141.6 L117.8 140.6 L119.1 139.7 L120.5 138.8 L121.9 137.9 L123.3 137.1 L124.8 136.2 L126.2 135.4 L127.7 134.7 L129.2 133.9 L130.8 133.2 L132.3 132.6 L133.9 131.9 L135.5 131.3 L137.1 130.7 L138.7 130.1 L140.3 129.6 L142.0 129.1 L143.6 128.6 L145.3 128.1 L147.0 127.7 L148.7 127.3 L150.4 126.9 L152.1 126.5 L153.9 126.2 L155.6 125.8 L157.4 125.5 L159.2 125.2 L161.0 124.9 L162.8 124.6 L164.6 124.4 L166.4 124.1 L168.2 123.9 L170.0 123.6 L171.8 123.4 L173.7 123.1 L175.5 122.9 L177.4 122.7 L179.2 122.5 L181.1 122.3 L182.9 122.1 L184.8 121.8 L186.7 121.6 L188.5 121.4 L190.4 121.2 L192.3 121.0 L194.2 120.7 L196.0 120.5 L197.9 120.3 L199.8 120.1 L201.7 119.8 L203.6 119.6 L205.5 119.4 L207.4 119.2 L209.3 119.0 L211.2 118.7 L213.2 118.5 L215.1 118.3 L217.0 118.1 L218.9 117.9 L220.9 117.7 L222.8 117.5 L224.8 117.3 L226.7 117.2 L228.7 117.0 L230.7 116.8 L232.7 116.6 L234.6 116.5 L236.6 116.3 L238.6 116.1 L240.6 116.0 L242.6 115.8 L244.6 115.7 L246.6 115.5 L248.7 115.4 L250.7 115.2 L252.7 115.1 L254.8 115.0 L256.8 114.8 L258.8 114.7 L260.9 114.6 L262.9 114.4 L265.0 114.3 L267.1 114.2 L269.2 114.1 L271.2 113.9 L273.3 113.8 L275.4 113.7 L277.5 113.6 L279.6 113.5 L281.7 113.4 L283.8 113.3 L285.9 113.2 L288.0 113.1 L290.1 113.0 L292.3 112.9 L294.4 112.8 L296.5 112.7 L298.7 112.6 L300.8 112.5 L303.0 112.4 L305.1 112.3 L307.3 112.2 L309.5 112.1 L311.6 112.0 L313.8 111.9 L316.0 111.9 L318.2 111.8 L320.4 111.7 L322.6 111.6 L324.8 111.5 L327.0 111.5 L329.2 111.4 L331.4 111.3 L333.6 111.2 L335.8 111.2 L338.1 111.1 L340.3 111.0 L342.5 111.0 L344.8 110.9 L347.0 110.8 L349.3 110.8 L351.5 110.7 L353.8 110.6 L356.0 110.6 L358.3 110.5 L360.6 110.5 L362.9 110.4 L365.2 110.3 L367.4 110.3 L369.7 110.2 L372.0 110.2 L374.3 110.1 L376.6 110.1 L379.0 110.0 L381.3 110.0 L383.6 109.9 L385.9 109.9 L388.3 109.8 L390.6 109.8 L392.9 109.7 L395.3 109.7 L397.6 109.6 L400.0 109.6 L402.3 109.6 L404.7 109.5 L407.1 109.5 L409.4 109.4 L411.8 109.4 L414.2 109.3 L416.6 109.3 L419.0 109.3 L421.4 109.2 L423.8 109.2 L426.2 109.2 L428.6 109.1 L431.0 109.1 L433.4 109.0 L435.8 109.0 L438.3 109.0 L440.7 108.9 L443.1 108.9 L445.6 108.9 L448.0 108.8 L450.5 108.8 L452.9 108.8 L455.4 108.7 L457.8 108.7 L460.3 108.7 L462.8 108.6 L465.2 108.6 L467.7 108.6 L470.2 108.6 L472.7 108.5 L475.2 108.5 L477.7 108.5 L480.2 108.4 L482.7 108.4 L485.2 108.4 L487.7 108.3 L490.2 108.3 L492.7 108.3 L495.3 108.2 L497.8 108.2 L500.3 108.2 L502.9 108.1 L505.4 108.1 L508.0 108.1 L510.5 108.0 L513.1 108.0 L515.6 108.0 L518.2 108.0 L520.8 107.9 L523.3 107.9 L525.9 107.9 L528.5 107.8 L531.1 107.8 L533.7 107.8" stroke="#3862ff"/>
</g>
<g font-family="'Liberation Sans', Arial, sans-serif" font-size="17.2" fill="#000" stroke="#000" stroke-width="0.25">
<text x="58.0" y="356.44" text-anchor="end">0</text>
<text x="58.0" y="303.31" text-anchor="end">5</text>
<text x="58.0" y="250.18" text-anchor="end">10</text>
<text x="58.0" y="197.05" text-anchor="end">15</text>
<text x="58.0" y="143.92" text-anchor="end">20</text>
<text x="58.0" y="90.79" text-anchor="end">25</text>
<text x="58.0" y="37.66" text-anchor="end">30</text>
<text x="71.00" y="404.2" text-anchor="middle">0</text>
<text x="148.12" y="404.2" text-anchor="middle">20</text>
<text x="225.23" y="404.2" text-anchor="middle">40</text>
<text x="302.35" y="404.2" text-anchor="middle">60</text>
<text x="379.47" y="404.2" text-anchor="middle">80</text>
<text x="456.58" y="404.2" text-anchor="middle">100</text>
<text x="533.70" y="404.2" text-anchor="middle">120</text>
</g>
<g font-family="'Liberation Sans', Arial, sans-serif" font-size="17.5" fill="#000" stroke="#000" stroke-width="0.25">
<text x="302.3" y="433.6" text-anchor="middle" font-size="17.2">time (min.)</text>
<text transform="translate(17.3,218.8) rotate(-90)" font-size="17.1">Δ<tspan dx="1.2">S (dNm)</tspan></text>
<text x="387.4" y="227.80">reference sample</text>
<line x1="342.7" x2="382.5" y1="222.20" y2="222.20" stroke="#444444" stroke-width="1.5"/>
<text x="387.4" y="249.60">VN3/IL10</text>
<line x1="342.7" x2="382.5" y1="244.00" y2="244.00" stroke="#ff3030" stroke-width="1.5"/>
<text x="387.4" y="271.50">VN3/IL20</text>
<line x1="342.7" x2="382.5" y1="266.00" y2="266.00" stroke="#ff8000" stroke-width="1.5"/>
<text x="387.4" y="293.50">nanoSiO<tspan font-size="12" dy="4.9">2</tspan><tspan dy="-4.9">/IL10</tspan></text>
<line x1="342.7" x2="382.5" y1="287.25" y2="287.25" stroke="#00a85c" stroke-width="1.5"/>
<text x="387.4" y="318.10">nanoSiO<tspan font-size="12" dy="4.9">2</tspan><tspan dy="-4.9">/IL20</tspan></text>
<line x1="342.7" x2="382.5" y1="312.60" y2="312.60" stroke="#00dc14" stroke-width="1.5"/>
<text x="387.4" y="343.60">CB/IL10</text>
<line x1="342.7" x2="382.5" y1="337.75" y2="337.75" stroke="#0a1ec8" stroke-width="1.5"/>
<text x="387.4" y="365.00">CB/IL20</text>
<line x1="342.7" x2="382.5" y1="359.40" y2="359.40" stroke="#3862ff" stroke-width="1.5"/>
</g>
</svg>
</body></html>
